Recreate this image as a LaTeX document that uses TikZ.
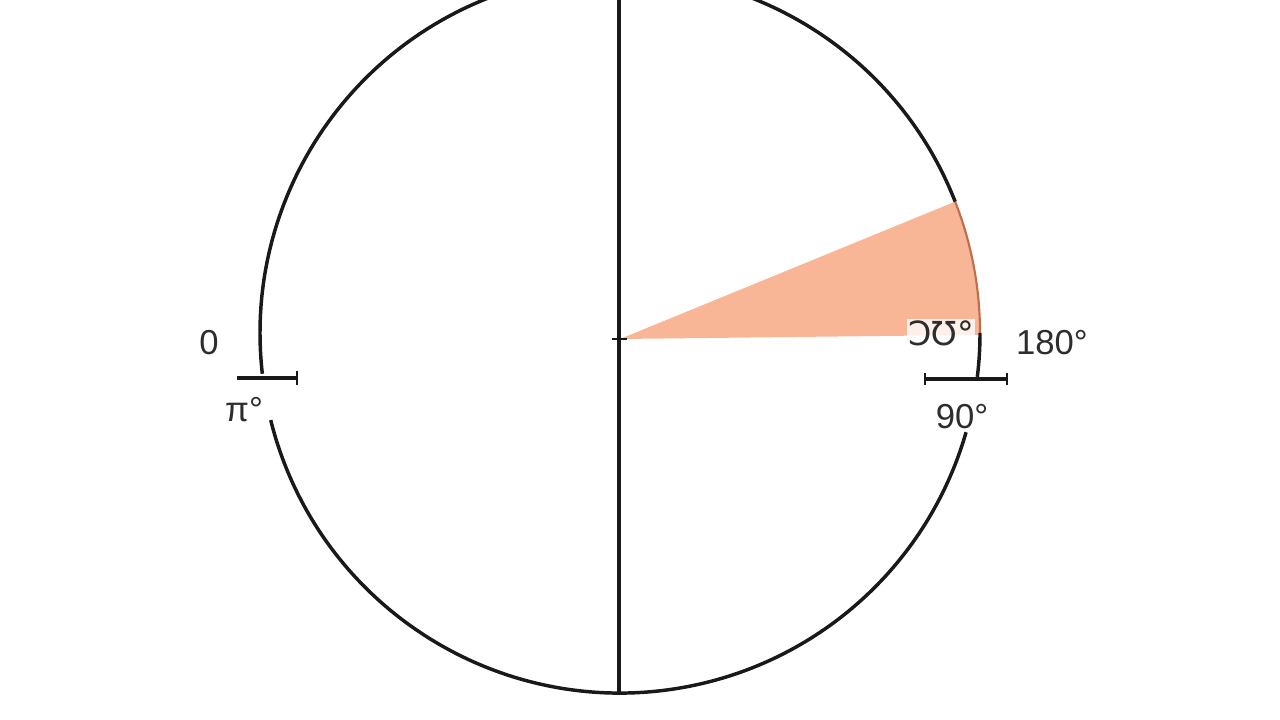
\documentclass[tikz,border=0pt]{standalone}
\usepackage{fontspec}
\setmainfont{Liberation Sans}
\newfontfamily\oddfont{DejaVu Sans}
\definecolor{sectorfill}{RGB}{248,182,150}
\definecolor{sectoredge}{RGB}{190,110,75}
\definecolor{lbltext}{RGB}{45,45,45}
\begin{document}
\begin{tikzpicture}[x=0.75pt,y=0.75pt,line width=2.6pt,color=black!90,
    lbl/.style={font=\fontsize{26}{30}\selectfont,inner sep=1pt,text=lbltext}]
      \useasboundingbox (0,0) rectangle (1280,720);
      \clip (0,0) rectangle (1280,720);
      \coordinate (o) at (620,387);
      \coordinate (v) at (620,381);
      % shaded sector
      \fill[sectorfill] (v) -- ([shift={(-0.3:360)}]o) arc[start angle=-0.3,end angle=21.4,radius=360] -- cycle;
      \draw[sectoredge,line width=1.6pt] ([shift={(0:360)}]o) arc[start angle=0,end angle=21.4,radius=360];
      % circle, broken near the ticks
      \draw ([shift={(21.4:360)}]o) arc[start angle=21.4,end angle=186.5,radius=360];
      \draw ([shift={(194:360)}]o) arc[start angle=194,end angle=344,radius=360];
      \draw ([shift={(353:360)}]o) arc[start angle=353,end angle=360,radius=360];
      % vertical axis
      \draw (619,730) -- (619,27);
      \draw[line width=1.4pt] (612,381) -- (627,381);
      % ticks
      \draw (237,342) -- (297,342);
      \draw[line width=1.8pt] (297,335) -- (297,349);
      \draw (925,341) -- (1007,341);
      \draw[line width=1.8pt] (925,335) -- (925,347);
      \draw[line width=1.8pt] (1007,335) -- (1007,347);
      % labels
      \node[lbl] (zero) at (209,377) {0};
      \node[lbl] (pideg) at (244,310) {π°};
      \node[lbl] (oneeighty) at (1052,377) {180°};
      \node[lbl,fill=white,fill opacity=0.8,text opacity=1,font=\oddfont\fontsize{25}{28}\selectfont] (upper) at (941,387) {ƆƱ°};
      \node[lbl] (ninety) at (962,303) {90°};
    \end{tikzpicture}
\end{document}
